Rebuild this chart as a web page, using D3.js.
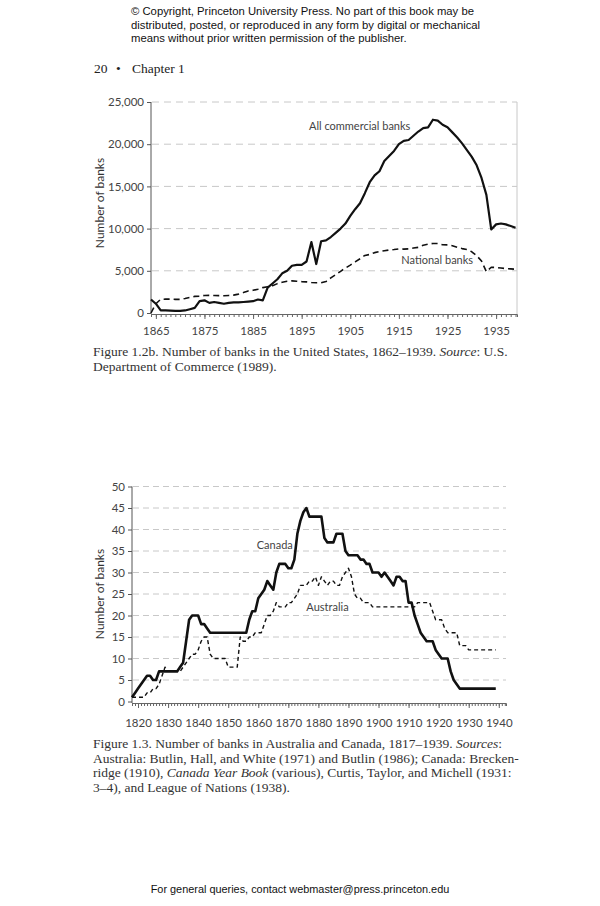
<!DOCTYPE html>
<html>
<head>
<meta charset="utf-8">
<script src="https://cdn.jsdelivr.net/npm/d3@7"></script>
<style>
  body { margin: 0; background: #fff; }
  svg { display: block; }
</style>
</head>
<body>
<div id="page"></div>
<script>
// ---- data read from the page ----
var usYears = d3.range(1864, 1940);
var usCommercial = [1600, 1100, 300, 300, 280, 260, 250, 300, 450, 600, 1400, 1500, 1200, 1300, 1200, 1100,
	1200, 1250, 1250, 1300, 1350, 1400, 1600, 1500, 3000, 3500, 4000, 4700, 5000, 5600, 5700, 5700,
	6100, 8400, 5800, 8500, 8600, 9000, 9500, 10000, 10600, 11500, 12300, 13000, 14200, 15500,
	16300, 16800, 18000, 18600, 19200, 20000, 20400, 20500, 21000, 21500, 21900, 22000, 22900, 22800,
	22300, 22000, 21400, 20800, 20100, 19300, 18500, 17500, 16000, 14000, 9900, 10500, 10600, 10500,
	10300, 10100];
var usNational = [0, 1100, 1630, 1640, 1640, 1620, 1610, 1720, 1850, 1970, 1980, 2080, 2090, 2080, 2060, 2050,
	2080, 2120, 2240, 2420, 2620, 2690, 2810, 3010, 3120, 3240, 3480, 3650, 3760, 3810, 3770, 3720,
	3690, 3610, 3580, 3580, 3730, 4160, 4540, 4940, 5330, 5670, 6050, 6430, 6820, 6930,
	7150, 7280, 7370, 7470, 7520, 7600, 7570, 7600, 7700, 7780, 8020, 8150, 8240, 8240,
	8080, 8070, 7970, 7790, 7630, 7530, 7250, 6800, 6150, 4900, 5420, 5390, 5330,
	5270, 5230, 5190];
var usYTicks = [0, 5000, 10000, 15000, 20000, 25000];
var usXTicks = [1865, 1875, 1885, 1895, 1905, 1915, 1925, 1935];

var caYears = d3.range(1818, 1940);
var canada = [1, 2, 3, 4, 5, 6, 6, 5, 5, 7, 7, 7, 7, 7, 7, 7, 8, 9, 14, 19,
	20, 20, 20, 18, 18, 17, 16, 16, 16, 16, 16, 16, 16, 16, 16, 16, 16, 16, 16, 19,
	21, 21, 24, 25, 26, 28, 27, 26, 30, 32, 32, 32, 31, 31, 33, 39, 42, 44, 45, 43,
	43, 43, 43, 43, 38, 37, 37, 37, 39, 39, 39, 35, 34, 34, 34, 34, 33, 33, 32, 32,
	30, 30, 30, 29, 30, 29, 28, 27, 29, 29, 28, 28, 23, 23, 20, 18, 16, 15, 14, 14,
	14, 12, 11, 10, 10, 10, 7, 5, 4, 3, 3, 3, 3, 3, 3, 3, 3, 3, 3, 3,
	3, 3];
var australia = [1, 1, 1, 1, 1, 2, 2, 3, 3, 4, 6, 8, 7, 7, 7, 7, 7, 8, 9, 10,
	11, 11, 12, 14, 15, 15, 11, 10, 10, 10, 10, 10, 8, 8, 8, 8, 15, 14, 14, 15,
	15, 16, 16, 16, 18, 20, 20, 21, 23, 22, 22, 22, 23, 23, 24, 25, 27, 27, 27, 28,
	28, 29, 27, 29, 28, 27, 28, 28, 27, 27, 29, 30, 31, 29, 25, 24, 24, 23, 23, 23,
	22, 22, 22, 22, 22, 22, 22, 22, 22, 22, 22, 22, 22, 22, 22, 23, 23, 23, 23, 23,
	21, 19, 19, 19, 17, 16, 16, 16, 16, 13, 13, 13, 12, 12, 12, 12, 12, 12, 12, 12,
	12, 12];
var caYTicks = d3.range(0, 51, 5);
var caXTicks = d3.range(1820, 1941, 10);

var W = 600, H = 906;
var svg = d3.select('#page').append('svg').attr('width', W).attr('height', H);

var sans = 'Liberation Sans, Arial, sans-serif';
var chartFont = 'Lato, sans-serif';
var serif = 'Liberation Serif, Times New Roman, serif';

// header
var header = ['\u00a9 Copyright, Princeton University Press. No part of this book may be',
	'distributed, posted, or reproduced in any form by digital or mechanical',
	'means without prior written permission of the publisher.'];
svg.append('g').selectAll('text').data(header).enter().append('text')
	.attr('x', 131).attr('y', function(d, i) { return 15 + i * 13.5; })
	.attr('font-family', sans).attr('font-size', 11.3).attr('fill', '#111')
	.text(function(d) { return d; });

// running head
[['20', 94], ['\u2022', 116], ['Chapter 1', 132]].forEach(function(p) {
	svg.append('text').attr('x', p[1]).attr('y', 73)
		.attr('font-family', serif).attr('font-size', 13.5).attr('fill', '#222')
		.text(p[0]);
});

function drawChart(o) {
	var g = svg.append('g');
	var x = d3.scaleLinear().domain(o.xDomain).range(o.xRange);
	var y = d3.scaleLinear().domain(o.yDomain).range(o.yRange);

	// dashed grid
	g.append('g').selectAll('line').data(o.yTicks.slice(1)).enter().append('line')
		.attr('x1', o.xRange[0] + 1).attr('x2', o.xRange[1])
		.attr('y1', function(d) { return y(d); }).attr('y2', function(d) { return y(d); })
		.attr('stroke', '#c8c8c8').attr('stroke-width', 1).attr('stroke-dasharray', o.gridDash);

	if (o.rightEdge) {
		g.append('line').attr('x1', o.xRange[1]).attr('x2', o.xRange[1])
			.attr('y1', o.yRange[1]).attr('y2', o.axisY)
			.attr('stroke', '#c8c8c8').attr('stroke-width', 1);
	}

	// y axis
	var yAxis = d3.axisLeft(y).tickValues(o.yTicks).tickSize(4).tickPadding(3)
		.tickFormat(o.yFormat);
	var ya = g.append('g').attr('transform', 'translate(' + o.xRange[0] + ',0)').call(yAxis);
	ya.select('.domain').remove();
	ya.append('line').attr('x1', 0).attr('x2', 0).attr('y1', o.yRange[1]).attr('y2', o.axisY)
		.attr('stroke', '#555');
	ya.selectAll('.tick line').attr('stroke', '#555');
	ya.selectAll('text').attr('font-family', chartFont).attr('font-size', 11.5).attr('fill', '#444');

	// x axis: minor yearly ticks plus labelled ticks
	var minor = d3.range(Math.ceil(o.xDomain[0]), Math.floor(o.xDomain[1]) + 1);
	var xm = g.append('g').attr('transform', 'translate(0,' + o.axisY + ')')
		.call(d3.axisBottom(x).tickValues(minor).tickSize(3).tickFormat(''));
	xm.selectAll('line, path').attr('stroke', '#666');
	var xa = g.append('g').attr('transform', 'translate(0,' + o.axisY + ')')
		.call(d3.axisBottom(x).tickValues(o.xTicks).tickSize(5).tickPadding(o.xPad).tickFormat(d3.format('d')));
	xa.select('.domain').remove();
	xa.selectAll('.tick line').attr('stroke', '#666');
	xa.selectAll('text').attr('font-family', chartFont).attr('font-size', 11.5).attr('fill', '#444');

	// y title
	g.append('text')
		.attr('transform', 'translate(' + o.titleX + ',' + o.titleY + ') rotate(-90)')
		.attr('text-anchor', 'middle')
		.attr('font-family', chartFont).attr('font-size', 12).attr('fill', '#333')
		.text('Number of banks');

	var line = d3.line()
		.x(function(d) { return x(d[0]); })
		.y(function(d) { return y(d[1]); });

	o.series.forEach(function(s) {
		var pts = o.years.map(function(yr, i) { return [yr, s.values[i]]; });
		g.append('path').attr('d', line(pts))
			.attr('fill', 'none').attr('stroke', '#111')
			.attr('stroke-width', s.width)
			.attr('stroke-linejoin', 'round')
			.attr('stroke-dasharray', s.dash || null);
		g.append('text').attr('x', x(s.labelAt[0])).attr('y', y(s.labelAt[1]))
			.attr('font-family', chartFont).attr('font-size', 11).attr('fill', '#444')
			.text(s.name);
	});
}

drawChart({
	xDomain: [1864, 1939.3], xRange: [151, 517],
	yDomain: [0, 25000], yRange: [313, 102], axisY: 314,
	yTicks: usYTicks, xTicks: usXTicks, xPad: 8,
	yFormat: d3.format(','), gridDash: '7,5', rightEdge: true,
	titleX: 104, titleY: 203, years: usYears,
	series: [
		{ name: 'All commercial banks', values: usCommercial, width: 2.2, labelAt: [1896.5, 21700] },
		{ name: 'National banks', values: usNational, width: 1.6, dash: '6,4', labelAt: [1915.5, 5800] }
	]
});

var capStyle = function(t) {
	return t.attr('font-family', serif).attr('font-size', 13.5).attr('fill', '#333');
};
var cap1 = capStyle(svg.append('text').attr('x', 93).attr('y', 356));
cap1.append('tspan').text('Figure 1.2b. Number of banks in the United States, 1862\u20131939. ');
cap1.append('tspan').attr('font-style', 'italic').text('Source');
cap1.append('tspan').text(': U.S.');
capStyle(svg.append('text').attr('x', 93).attr('y', 371)).text('Department of Commerce (1989).');

drawChart({
	xDomain: [1818, 1942.4], xRange: [132, 506],
	yDomain: [0, 50], yRange: [701.5, 486.5], axisY: 703,
	yTicks: caYTicks, xTicks: caXTicks, xPad: 11,
	yFormat: d3.format('d'), gridDash: '6,4', rightEdge: false,
	titleX: 104, titleY: 594, years: caYears,
	series: [
		{ name: 'Canada', values: canada, width: 2.6, labelAt: [1859.5, 35.5] },
		{ name: 'Australia', values: australia, width: 1.4, dash: '4,3', labelAt: [1876, 21] }
	]
});

var cap2 = [
	[['Figure 1.3. Number of banks in Australia and Canada, 1817\u20131939. ', false], ['Sources', true], [':', false]],
	[['Australia: Butlin, Hall, and White (1971) and Butlin (1986); Canada: Brecken-', false]],
	[['ridge (1910), ', false], ['Canada Year Book', true], [' (various), Curtis, Taylor, and Michell (1931:', false]],
	[['3\u20134), and League of Nations (1938).', false]]
];
cap2.forEach(function(parts, i) {
	var t = capStyle(svg.append('text').attr('x', 93).attr('y', 748 + i * 14.7));
	parts.forEach(function(p) {
		t.append('tspan').attr('font-style', p[1] ? 'italic' : null).text(p[0]);
	});
});

svg.append('text').attr('x', 300).attr('y', 893).attr('text-anchor', 'middle')
	.attr('font-family', sans).attr('font-size', 10.9).attr('fill', '#111')
	.text('For general queries, contact webmaster@press.princeton.edu');
</script>
</body>
</html>
